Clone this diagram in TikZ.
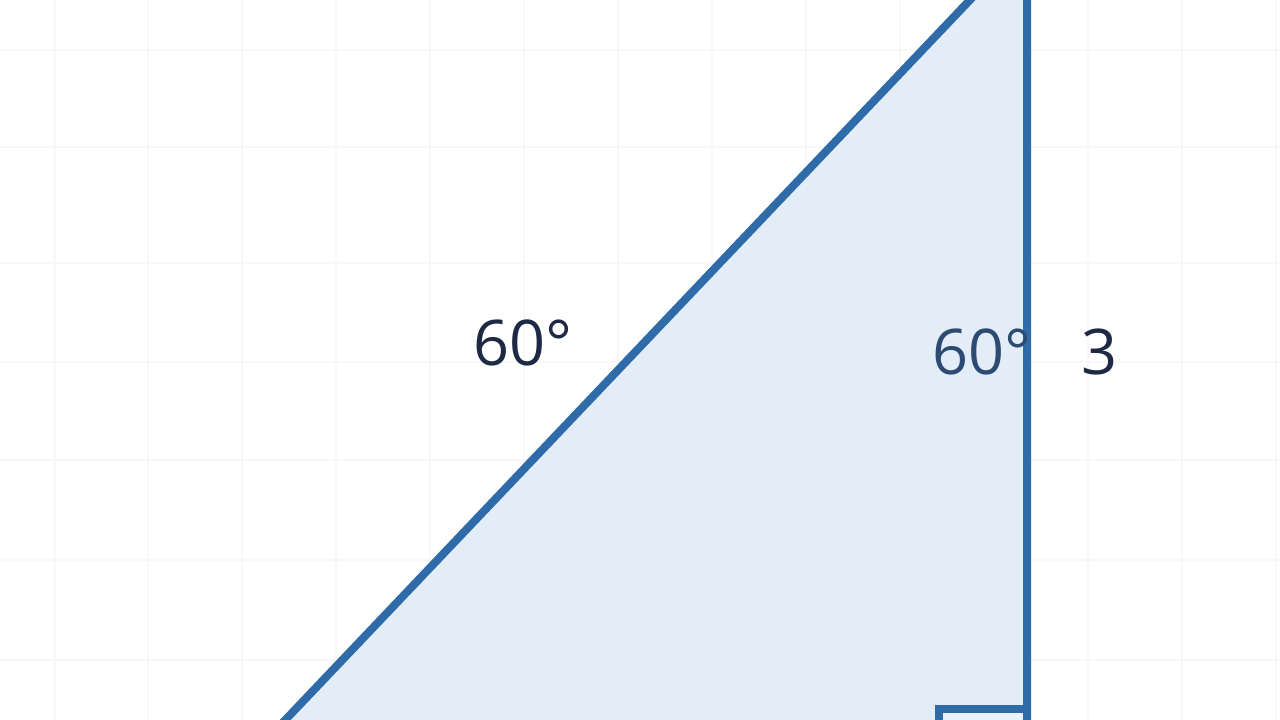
\documentclass[tikz,border=0pt]{standalone}
\usepackage{fontspec}
\setmainfont{Open Sans}
\definecolor{edgeblue}{HTML}{2F6BA8}
\definecolor{fillblue}{HTML}{E3EDF7}
\definecolor{markfill}{HTML}{EAF2FA}
\definecolor{darktext}{HTML}{1E2A44}
\definecolor{bluetext}{HTML}{2C4A72}
\definecolor{gridgray}{HTML}{F8F8F8}
\tikzset{
  edge/.style={draw=edgeblue, line width=8pt, line join=miter},
  lbl/.style={font=\fontsize{63}{70}\selectfont, inner sep=0pt, anchor=center},
}
\begin{document}
\begin{tikzpicture}[x=1pt,y=-1pt]
\useasboundingbox (0,0) rectangle (1280,720);
\fill[white] (0,0) rectangle (1280,720);
\clip (0,0) rectangle (1280,720);
% faint background grid
\foreach \gx in {55,148,242,336,430,524,618,712,806,900,994,1088,1182,1276}
  \draw[gridgray, line width=1.2pt] (\gx,0) -- (\gx,720);
\foreach \gy in {50,147,263,362,460,560,660}
  \draw[gridgray, line width=1.2pt] (0,\gy) -- (1280,\gy);
% vertices (two lie outside the frame)
\coordinate (B) at (212,797);
\coordinate (T) at (1027,-60);
\coordinate (C) at (1027,797);
\fill[fillblue] (B) -- (T) -- (C) -- cycle;
\coordinate (m1) at (939,797);
\coordinate (m2) at (939,709);
\coordinate (m3) at (1027,709);
\fill[markfill] (m1) -- (m2) -- (m3) -- (C) -- cycle;
\draw[edge] (m1) -- (m2) -- (m3);
\draw[edge] (B) -- (T) -- (C) -- cycle;
% labels
\node[lbl, text=darktext] (a1) at (523,343) {60°};
\node[lbl, text=bluetext] (a2) at (982,352) {60°};
\node[lbl, text=darktext] (s1) at (1099,352) {3};
\end{tikzpicture}
\end{document}
